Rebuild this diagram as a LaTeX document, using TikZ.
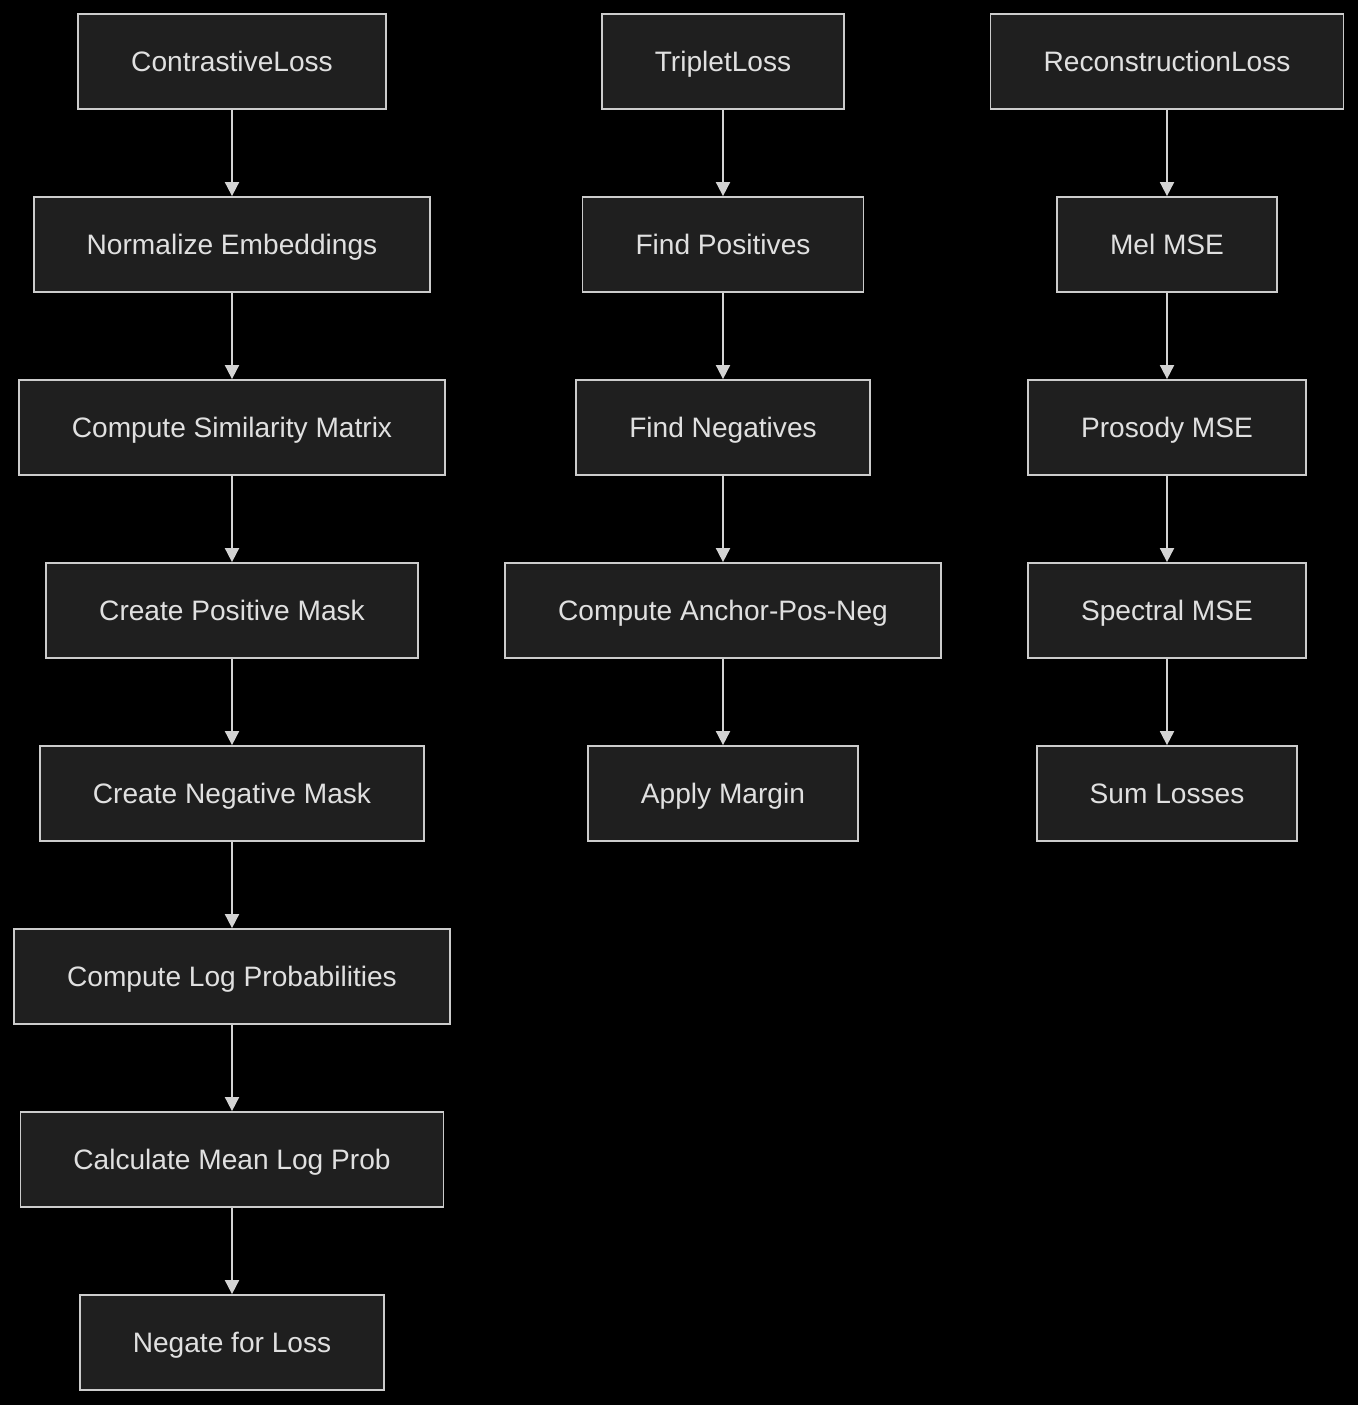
\documentclass[tikz,border=0pt]{standalone}
\usepackage{fontspec}
\setmainfont{Liberation Sans}
\usetikzlibrary{arrows.meta}
\definecolor{boxfill}{HTML}{1F1F1F}
\definecolor{boxline}{HTML}{CCCCCC}
\definecolor{boxtext}{HTML}{E0E0E0}
\definecolor{edgeline}{HTML}{D3D3D3}
\tikzset{
  lossbox/.style={draw=boxline,fill=boxfill,text=boxtext,line width=1pt,rectangle,
    minimum height=1.9cm,inner xsep=1.06cm,text height=11.6pt,text depth=0pt,
    font=\fontsize{16}{19}\selectfont},
  flow/.style={draw=edgeline,line width=1pt,-{Triangle[width=8pt,length=8pt]}}
}
\begin{document}
\begin{tikzpicture}[x=0.02cm,y=-0.02cm]
\fill[black] (0,0) rectangle (1358,1405);
\useasboundingbox (0,0) rectangle (1358,1405);
% contrastive column
\node[lossbox] (c1) at (232,61.5) {ContrastiveLoss};
\node[lossbox] (c2) at (232,244.5) {Normalize Embeddings};
\node[lossbox] (c3) at (232,427.5) {Compute Similarity Matrix};
\node[lossbox] (c4) at (232,610.5) {Create Positive Mask};
\node[lossbox] (c5) at (232,793.5) {Create Negative Mask};
\node[lossbox] (c6) at (232,976.5) {Compute Log Probabilities};
\node[lossbox] (c7) at (232,1159.5) {Calculate Mean Log Prob};
\node[lossbox] (c8) at (232,1342.5) {Negate for Loss};
% triplet column
\node[lossbox] (t1) at (723,61.5) {TripletLoss};
\node[lossbox] (t2) at (723,244.5) {Find Positives};
\node[lossbox] (t3) at (723,427.5) {Find Negatives};
\node[lossbox] (t4) at (723,610.5) {Compute Anchor-Pos-Neg};
\node[lossbox] (t5) at (723,793.5) {Apply Margin};
% reconstruction column
\node[lossbox] (r1) at (1167,61.5) {ReconstructionLoss};
\node[lossbox] (r2) at (1167,244.5) {Mel MSE};
\node[lossbox] (r3) at (1167,427.5) {Prosody MSE};
\node[lossbox] (r4) at (1167,610.5) {Spectral MSE};
\node[lossbox] (r5) at (1167,793.5) {Sum Losses};
\foreach \a/\b in {c1/c2,c2/c3,c3/c4,c4/c5,c5/c6,c6/c7,c7/c8,
                   t1/t2,t2/t3,t3/t4,t4/t5,
                   r1/r2,r2/r3,r3/r4,r4/r5}
  \draw[flow] (\a) -- (\b);
\end{tikzpicture}
\end{document}
